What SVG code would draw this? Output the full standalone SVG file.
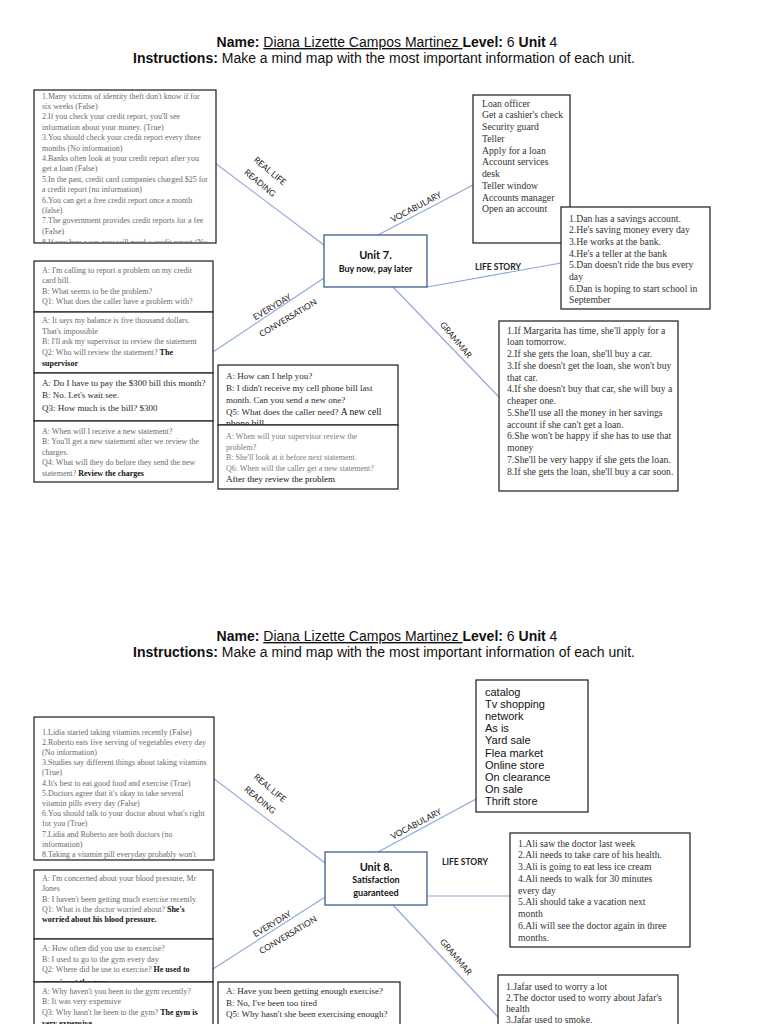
<svg xmlns="http://www.w3.org/2000/svg" width="768" height="1024" viewBox="0 0 768 1024">
<style>
.box{fill:#fff;stroke:#2b2b2b;stroke-width:1.3}
.ubox{fill:#fff;stroke:#3d5f94;stroke-width:1.3}
.con{stroke:#8ea6d6;stroke-width:1.1;fill:none}
.g{font-family:"Liberation Serif",serif;font-size:8px;fill:#6a6a6a}
.d{font-family:"Liberation Serif",serif;font-size:9px;fill:#2a2a2a}
.v{font-family:"Liberation Serif",serif;font-size:9.7px;fill:#333}
.b{font-weight:bold;fill:#111}
.lab{font-family:Lato,"Liberation Sans",sans-serif;font-size:8.5px;fill:#222;text-anchor:middle}
.hd{font-family:"Liberation Sans",Arial,sans-serif;font-size:14px;fill:#111}
.cat{font-family:"Liberation Sans",Arial,sans-serif;font-size:11px;fill:#111}
.u1{font-family:Lato,"Liberation Sans",sans-serif;font-weight:bold;font-size:11px;fill:#111;text-anchor:middle}
.u2{font-family:Lato,"Liberation Sans",sans-serif;font-weight:bold;font-size:9px;fill:#111;text-anchor:middle}
</style>
<defs>
<clipPath id="clipRL1"><rect x="34" y="90" width="182" height="153"/></clipPath>
<clipPath id="clipJ"><rect x="218" y="982" width="182" height="60"/></clipPath>
</defs>

<!-- headers -->
<g id="header1">
<text class="hd" x="387" y="47" text-anchor="middle"><tspan font-weight="bold">Name: </tspan><tspan text-decoration="underline">Diana Lizette Campos Martinez </tspan><tspan font-weight="bold">Level:</tspan> 6 <tspan font-weight="bold">Unit</tspan> 4</text>
<text class="hd" x="384" y="63" text-anchor="middle"><tspan font-weight="bold">Instructions:</tspan> Make a mind map with the most important information of each unit.</text>
</g>
<g id="header2">
<text class="hd" x="387" y="641" text-anchor="middle"><tspan font-weight="bold">Name: </tspan><tspan text-decoration="underline">Diana Lizette Campos Martinez </tspan><tspan font-weight="bold">Level:</tspan> 6 <tspan font-weight="bold">Unit</tspan> 4</text>
<text class="hd" x="384" y="657" text-anchor="middle"><tspan font-weight="bold">Instructions:</tspan> Make a mind map with the most important information of each unit.</text>
</g>

<!-- connectors -->
<g id="connectors">
<line class="con" x1="215" y1="163" x2="324" y2="245"/>
<line class="con" x1="378" y1="235" x2="473" y2="185"/>
<line class="con" x1="427" y1="287" x2="561" y2="263"/>
<line class="con" x1="213" y1="352" x2="324" y2="278"/>
<line class="con" x1="393" y1="287" x2="499" y2="397"/>
<line class="con" x1="213" y1="778" x2="325" y2="863"/>
<line class="con" x1="378" y1="852" x2="476" y2="799"/>
<line class="con" x1="427" y1="896" x2="510" y2="896"/>
<line class="con" x1="213" y1="969" x2="325" y2="897"/>
<line class="con" x1="393" y1="905" x2="498" y2="1017"/>
<text class="lab" transform="translate(270,171) rotate(40)" y="3">REAL LIFE</text>
<text class="lab" transform="translate(260,183) rotate(40)" y="3">READING</text>
<text class="lab" transform="translate(416,207) rotate(-28)" y="3">VOCABULARY</text>
<text class="lab" x="498" y="270" font-weight="bold">LIFE STORY</text>
<text class="lab" transform="translate(272,307) rotate(-31)" y="3">EVERYDAY</text>
<text class="lab" transform="translate(288,318) rotate(-31)" y="3">CONVERSATION</text>
<text class="lab" transform="translate(456,340) rotate(50)" y="3">GRAMMAR</text>
<text class="lab" transform="translate(270,788) rotate(40)" y="3">REAL LIFE</text>
<text class="lab" transform="translate(260,800) rotate(40)" y="3">READING</text>
<text class="lab" transform="translate(416,824) rotate(-28)" y="3">VOCABULARY</text>
<text class="lab" x="465" y="865" font-weight="bold">LIFE STORY</text>
<text class="lab" transform="translate(272,924) rotate(-31)" y="3">EVERYDAY</text>
<text class="lab" transform="translate(288,935) rotate(-31)" y="3">CONVERSATION</text>
<text class="lab" transform="translate(456,957) rotate(50)" y="3">GRAMMAR</text>
</g>

<!-- ===== Unit 7 ===== -->
<g id="unit7">
<rect class="ubox" x="324" y="235" width="103" height="52"/>
<text class="u1" x="375.5" y="259">Unit 7.</text>
<text class="u2" x="375.5" y="271.5">Buy now, pay later</text>
</g>

<g id="reading7">
<rect class="box" x="34" y="90" width="182" height="153"/>
<g clip-path="url(#clipRL1)" class="g">
<text x="42" y="98.5">1.Many victims of identity theft don't know if for</text>
<text x="42" y="108.9">six weeks (False)</text>
<text x="42" y="119.3">2.If you check your credit report, you'll see</text>
<text x="42" y="129.7">information about your money. (True)</text>
<text x="42" y="140.1">3.You should check your credit report every three</text>
<text x="42" y="150.5">months (No information)</text>
<text x="42" y="160.9">4.Banks often look at your credit report after you</text>
<text x="42" y="171.3">get a loan (False)</text>
<text x="42" y="181.7">5.In the past, credit card companies charged $25 for</text>
<text x="42" y="192.1">a credit report (no information)</text>
<text x="42" y="202.5">6.You can get a free credit report once a month</text>
<text x="42" y="212.9">(false)</text>
<text x="42" y="223.3">7.The government provides credit reports for a fee</text>
<text x="42" y="233.7">(False)</text>
<text x="42" y="245">8.If you buy a car, you will need a credit report (No</text>
</g>
</g>

<g id="vocab7">
<rect class="box" x="473" y="95" width="97" height="148"/>
<g class="v">
<text x="482" y="106.5">Loan officer</text>
<text x="482" y="118.25">Get a cashier's check</text>
<text x="482" y="130">Security guard</text>
<text x="482" y="141.75">Teller</text>
<text x="482" y="153.5">Apply for a loan</text>
<text x="482" y="165.25">Account services</text>
<text x="482" y="177">desk</text>
<text x="482" y="188.75">Teller window</text>
<text x="482" y="200.5">Accounts manager</text>
<text x="482" y="212.25">Open an account</text>
</g>
</g>

<g id="lifestory7">
<rect class="box" x="561" y="207" width="149" height="102"/>
<g class="v">
<text x="569" y="221.5">1.Dan has a savings account.</text>
<text x="569" y="233.2">2.He's saving money every day</text>
<text x="569" y="244.9">3.He works at the bank.</text>
<text x="569" y="256.6">4.He's a teller at the bank</text>
<text x="569" y="268.3">5.Dan doesn't ride the bus every</text>
<text x="569" y="280">day</text>
<text x="569" y="291.7">6.Dan is hoping to start school in</text>
<text x="569" y="303.4">September</text>
</g>
</g>

<g id="grammar7">
<rect class="box" x="499" y="321" width="179" height="170"/>
<g class="v">
<text x="507" y="333.5">1.If Margarita has time, she'll apply for a</text>
<text x="507" y="345.25">loan tomorrow.</text>
<text x="507" y="357">2.If she gets the loan, she'll buy a car.</text>
<text x="507" y="368.75">3.If she doesn't get the loan, she won't buy</text>
<text x="507" y="380.5">that car.</text>
<text x="507" y="392.25">4.If she doesn't buy that car, she will buy a</text>
<text x="507" y="404">cheaper one.</text>
<text x="507" y="415.75">5.She'll use all the money in her savings</text>
<text x="507" y="427.5">account if she can't get a loan.</text>
<text x="507" y="439.25">6.She won't be happy if she has to use that</text>
<text x="507" y="451">money</text>
<text x="507" y="462.75">7.She'll be very happy if she gets the loan.</text>
<text x="507" y="474.5">8.If she gets the loan, she'll buy a car soon.</text>
</g>
</g>

<g id="conv7a">
<rect class="box" x="34" y="261" width="179" height="51"/>
<g class="g">
<text x="42" y="272.5">A: I'm calling to report a problem on my credit</text>
<text x="42" y="283.1">card bill.</text>
<text x="42" y="293.7">B: What seems to be the problem?</text>
<text x="42" y="304.3">Q1: What does the caller have a problem with?</text>
</g>
</g>
<g id="conv7b">
<rect class="box" x="34" y="312" width="179" height="61"/>
<g class="g">
<text x="42" y="323">A: It says my balance is five thousand dollars.</text>
<text x="42" y="333.7">That's impossible</text>
<text x="42" y="344.4">B: I'll ask my supervisor to review the statement</text>
<text x="42" y="355.1">Q2: Who will review the statement? <tspan class="b">The</tspan></text>
<text x="42" y="365.8" class="b">supervisor</text>
</g>
</g>
<g id="conv7c">
<rect class="box" x="34" y="373" width="179" height="48"/>
<g class="d">
<text x="42" y="385.5">A: Do I have to pay the $300 bill this month?</text>
<text x="42" y="398">B: No. Let's wait see.</text>
<text x="42" y="410.5">Q3: How much is the bill? $300</text>
</g>
</g>
<g id="conv7d">
<rect class="box" x="34" y="421" width="179" height="61"/>
<g class="g">
<text x="42" y="433.5">A: When will I receive a new statement?</text>
<text x="42" y="444.1">B: You'll get a new statement after we review the</text>
<text x="42" y="454.7">charges.</text>
<text x="42" y="465.3">Q4: What will they do before they send the new</text>
<text x="42" y="475.9">statement? <tspan class="b">Review the charges</tspan></text>
</g>
</g>
<g id="conv7e">
<rect class="box" x="218" y="365" width="180" height="60"/>
<g class="d">
<text x="226" y="378.5">A: How can I help you?</text>
<text x="226" y="390.5">B: I didn't receive my cell phone bill last</text>
<text x="226" y="402.5">month. Can you send a new one?</text>
<text x="226" y="414.5">Q5: What does the caller need? <tspan font-size="9.5px" fill="#111">A new cell</tspan></text>
<text x="226" y="427" font-size="9.5px" fill="#111">phone bill</text>
</g>
</g>
<g id="conv7f">
<rect class="box" x="218" y="425" width="180" height="64"/>
<g class="g" style="fill:#7a7a7a">
<text x="226" y="439">A: When will your supervisor review the</text>
<text x="226" y="449.5">problem?</text>
<text x="226" y="460">B: She'll look at it before next statement.</text>
<text x="226" y="470.5">Q6: When will the caller get a new statement?</text>
</g>
<text class="d" x="226" y="481.5" style="fill:#111">After they review the problem</text>
</g>

<!-- ===== Unit 8 ===== -->
<g id="unit8">
<rect class="ubox" x="325" y="852" width="102" height="53"/>
<text class="u1" x="376" y="870.5">Unit 8.</text>
<text class="u2" x="376" y="882.5">Satisfaction</text>
<text class="u2" x="376" y="895.5">guaranteed</text>
</g>

<g id="reading8">
<rect class="box" x="34" y="717" width="180" height="143"/>
<g class="g">
<text x="42" y="734.5">1.Lidia started taking vitamins recently (False)</text>
<text x="42" y="744.7">2.Roberto eats five serving of vegetables every day</text>
<text x="42" y="754.9">(No information)</text>
<text x="42" y="765.1">3.Studies say different things about taking vitamins</text>
<text x="42" y="775.3">(True)</text>
<text x="42" y="785.5">4.It's best to eat good food and exercise (True)</text>
<text x="42" y="795.7">5.Doctors agree that it's okay to take several</text>
<text x="42" y="805.9">vitamin pills every day (False)</text>
<text x="42" y="816.1">6.You should talk to your doctor about what's right</text>
<text x="42" y="826.3">for you (True)</text>
<text x="42" y="836.5">7.Lidia and Roberto are both doctors (no</text>
<text x="42" y="846.7">information)</text>
<text x="42" y="856.9">8.Taking a vitamin pill everyday probably won't</text>
</g>
</g>

<g id="vocab8">
<rect class="box" x="476" y="680" width="112" height="132"/>
<g class="cat">
<text x="485" y="696">catalog</text>
<text x="485" y="708.1">Tv shopping</text>
<text x="485" y="720.2">network</text>
<text x="485" y="732.3">As is</text>
<text x="485" y="744.4">Yard sale</text>
<text x="485" y="756.5">Flea market</text>
<text x="485" y="768.6">Online store</text>
<text x="485" y="780.7">On clearance</text>
<text x="485" y="792.8">On sale</text>
<text x="485" y="804.9">Thrift store</text>
</g>
</g>

<g id="lifestory8">
<rect class="box" x="510" y="833" width="180" height="114"/>
<g class="v">
<text x="518" y="846.5">1.Ali saw the doctor last week</text>
<text x="518" y="858.25">2.Ali needs to take care of his health.</text>
<text x="518" y="870">3.Ali is going to eat less ice cream</text>
<text x="518" y="881.75">4.Ali needs to walk for 30 minutes</text>
<text x="518" y="893.5">every day</text>
<text x="518" y="905.25">5.Ali should take a vacation next</text>
<text x="518" y="917">month</text>
<text x="518" y="928.75">6.Ali will see the doctor again in three</text>
<text x="518" y="940.5">months.</text>
</g>
</g>

<g id="grammar8">
<rect class="box" x="498" y="975" width="180" height="60"/>
<g class="v">
<text x="506" y="990">1.Jafar used to worry a lot</text>
<text x="506" y="1001">2.The doctor used to worry about Jafar's</text>
<text x="506" y="1012">health</text>
<text x="506" y="1022.5">3.Jafar used to smoke.</text>
</g>
</g>

<g id="conv8a">
<rect class="box" x="34" y="870" width="179" height="69"/>
<g class="g">
<text x="42" y="881">A: I'm concerned about your blood pressure, Mr</text>
<text x="42" y="891.3">Jones</text>
<text x="42" y="901.6">B: I haven't been getting much exercise recently.</text>
<text x="42" y="911.9">Q1: What is the doctor worried about? <tspan class="b">She's</tspan></text>
<text x="42" y="922.2" class="b">worried about his blood pressure.</text>
</g>
</g>
<g id="conv8b">
<rect class="box" x="34" y="939" width="179" height="43"/>
<g class="g">
<text x="42" y="951">A: How often did you use to exercise?</text>
<text x="42" y="961.5">B: I used to go to the gym every day</text>
<text x="42" y="972">Q2: Where did he use to exercise? <tspan class="b">He used to</tspan></text>
<text x="42" y="984.5" class="b">exercise at the gym</text>
</g>
</g>
<g id="conv8c">
<rect class="box" x="34" y="982" width="179" height="60"/>
<g class="g">
<text x="42" y="994">A: Why haven't you been to the gym recently?</text>
<text x="42" y="1004.3">B: It was very expensive</text>
<text x="42" y="1014.6">Q3: Why hasn't he been to the gym? <tspan class="b">The gym is</tspan></text>
<text x="42" y="1026" class="b">very expensive</text>
</g>
</g>
<g id="conv8d">
<rect class="box" x="218" y="982" width="182" height="60"/>
<g class="d" clip-path="url(#clipJ)">
<text x="226" y="994">A: Have you been getting enough exercise?</text>
<text x="226" y="1005.5">B: No, I've been too tired</text>
<text x="226" y="1017">Q5: Why hasn't she been exercising enough?</text>
</g>
</g>
</svg>
